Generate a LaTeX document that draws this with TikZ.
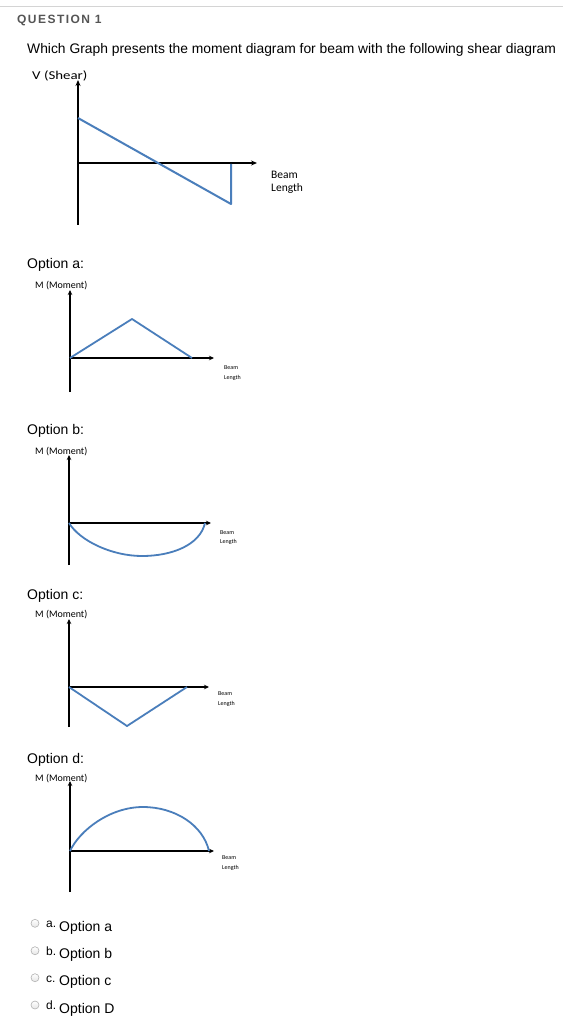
\documentclass[tikz,border=0pt]{standalone}
\usepackage{fontspec}
\setmainfont{Liberation Sans}
\newfontfamily\calfont{Carlito}
\usetikzlibrary{arrows.meta}
\definecolor{curveblue}{HTML}{4A7EBB}
\definecolor{rulegray}{HTML}{D4D4D4}
\definecolor{headgray}{HTML}{555555}
\newcommand{\ls}{\kern1.45pt}
\tikzset{
  txt/.style={inner sep=0pt, anchor=base west},
  optlabel/.style={txt, font=\fontsize{14}{16}\selectfont},
  mlabel/.style={txt, font=\calfont\fontsize{10}{12}\selectfont},
  tinylabel/.style={txt, font=\calfont\fontsize{6}{7}\selectfont},
  axis/.style={line width=1.4pt, -{Stealth[length=6pt,width=5pt]}},
  saxis/.style={line width=1.3pt, -{Stealth[length=5pt,width=4.5pt]}},
  curve/.style={line width=1.8pt, curveblue, line join=round},
  radio/.style={circle, minimum size=8pt, inner sep=0pt, draw=black!30, line width=0.6pt, top color=white, bottom color=black!10},
}
\begin{document}
\begin{tikzpicture}[x=1pt,y=-1pt]
\useasboundingbox (0,0) rectangle (563,1024);
\fill[white] (0,0) rectangle (563,1024);
% top rule
\coordinate (ruleL) at (0,6.5);
\coordinate (ruleR) at (563,6.5);
\draw[rulegray, line width=1.5pt] (ruleL) -- (ruleR);
\node[txt, font=\bfseries\fontsize{12}{14}\selectfont, text=headgray] (title) at (17,23.3) {Q\ls U\ls E\ls S\ls T\ls I\ls O\ls N\ls\ 1};
\node[txt, font=\fontsize{13.85}{16}\selectfont] (question) at (27,53.5) {Which Graph presents the moment diagram for beam with the following shear diagram};

% shear diagram
\node[txt, font=\calfont\fontsize{12}{14}\selectfont] (vlabel) at (32,80) {\scalebox{1.24}[1]{V (Shear)}};
\coordinate (vO) at (78,163);
\coordinate (vB) at (78,225);
\coordinate (vT) at (78,80);
\coordinate (vR) at (257,163);
\draw[axis] (vB) -- (vT);
\draw[axis] (vO) -- (vR);
\coordinate (s1) at (78,118);
\coordinate (s2) at (231,204);
\coordinate (s3) at (231,164);
\draw[curve, line width=2pt] (s1) -- (s2) -- (s3);
\node[txt, font=\calfont\fontsize{11.5}{13}\selectfont] (beam0) at (271,179) {Beam};
\node[txt, font=\calfont\fontsize{11.5}{13}\selectfont] (len0) at (271,192) {Length};

% option a
\node[optlabel] (opta) at (27,268) {Option a:};
\node[mlabel] (ma) at (35,288.3) {M (Moment)};
\coordinate (aO) at (70,358);
\coordinate (aB) at (70,392);
\coordinate (aT) at (70,290);
\coordinate (aR) at (214,358);
\draw[saxis] (aB) -- (aT);
\draw[saxis] (aO) -- (aR);
\coordinate (a1) at (132,319);
\coordinate (a2) at (192,358);
\draw[curve] (aO) -- (a1) -- (a2);
\node[tinylabel] (beama) at (224,369.3) {Beam};
\node[tinylabel] (lena) at (224,379) {Length};

% option b
\node[optlabel] (optb) at (27,434.5) {Option b:};
\node[mlabel] (mb) at (35,454.3) {M (Moment)};
\coordinate (bO) at (69,523);
\coordinate (bB) at (69,565);
\coordinate (bT) at (69,455);
\coordinate (bR) at (211,523);
\draw[saxis] (bB) -- (bT);
\draw[saxis] (bO) -- (bR);
\coordinate (bm) at (142,556);
\coordinate (b2) at (205,523);
\draw[curve] (bO) .. controls (80,541) and (112,556) .. (bm) .. controls (172,556) and (200,545) .. (b2);
\node[tinylabel] (beamb) at (220,534) {Beam};
\node[tinylabel] (lenb) at (220,543) {Length};

% option c
\node[optlabel] (optc) at (27,599) {Option c:};
\node[mlabel] (mc) at (35,617.7) {M (Moment)};
\coordinate (cO) at (69,687);
\coordinate (cB) at (69,727);
\coordinate (cT) at (69,619);
\coordinate (cR) at (209,687);
\draw[saxis] (cB) -- (cT);
\draw[saxis] (cO) -- (cR);
\coordinate (c1) at (127,726);
\coordinate (c2) at (187,687);
\draw[curve] (cO) -- (c1) -- (c2);
\node[tinylabel] (beamc) at (218,695.7) {Beam};
\node[tinylabel] (lenc) at (218,705.7) {Length};

% option d
\node[optlabel] (optd) at (27,763) {Option d:};
\node[mlabel] (md) at (35,781.7) {M (Moment)};
\coordinate (dO) at (70,851);
\coordinate (dB) at (70,892);
\coordinate (dT) at (70,781);
\coordinate (dR) at (214,851);
\draw[saxis] (dB) -- (dT);
\draw[saxis] (dO) -- (dR);
\coordinate (dm) at (143,807);
\coordinate (d2) at (209,851);
\draw[curve] (dO) .. controls (80,830) and (110,807) .. (dm) .. controls (175,807) and (203,825) .. (d2);
\node[tinylabel] (beamd) at (222,859.3) {Beam};
\node[tinylabel] (lend) at (222,869) {Length};

% answers
\foreach \k/\yy/\lab/\txt in {1/923.3/a./Option a, 2/950.7/b./Option b, 3/977.7/c./Option c, 4/1005/d./Option D}{
  \node[radio] (r\k) at (35,\yy) {};
  \node[txt, font=\fontsize{12}{13}\selectfont] (l\k) at (46,\yy+4.5) {\lab};
  \node[txt, font=\fontsize{14}{16}\selectfont] (o\k) at (59,\yy+8) {\txt};
}
\end{tikzpicture}
\end{document}
